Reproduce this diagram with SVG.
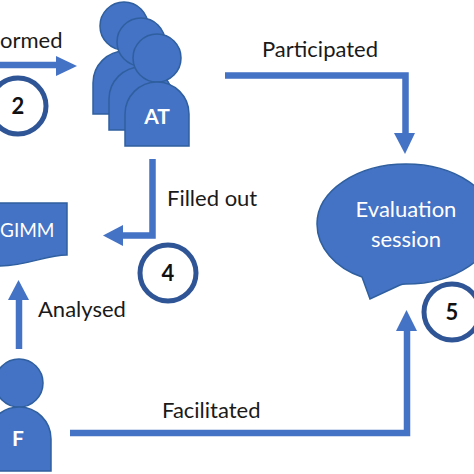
<svg xmlns="http://www.w3.org/2000/svg" width="474" height="474" viewBox="0 0 474 474">
<style>
.s{fill:#4472c4;stroke:#2f5f9f;stroke-width:1.5}
.c{fill:none;stroke:#4472c4;stroke-width:6.5}
.h{fill:#4472c4}
text{font-family:Lato,"Open Sans",sans-serif}
.t{font-size:22px;fill:#1a1a1a}
.w{fill:#fff;text-anchor:middle}
.n{fill:#fff;stroke:#2f5597;stroke-width:5}
.d{font-size:22px;font-weight:700;fill:#111;text-anchor:middle}
</style>
<rect width="474" height="474" fill="#fff"/>
<g id="connectors">
<path class="c" d="M0 65H60"/><path class="h" d="M56 56L77 66L56 76Z"/>
<path class="c" d="M225 75.500H405.500V136"/><path class="h" d="M394 133H415L405 154Z"/>
<path class="c" d="M152.500 159V235.500H120"/><path class="h" d="M123 225V246L103 235.500Z"/>
<path class="c" d="M19 349V297"/><path class="h" d="M8 300H29L18.500 280Z"/>
<path class="c" d="M70 433H407V327"/><path class="h" d="M396 331H417L406.500 310Z"/>
</g>
<g id="node-at">
<circle class="s" cx="124" cy="26" r="24"/><path class="s" d="M93 114V83A32 32 0 0 1 157 83V114Z"/>
<circle class="s" cx="141" cy="42" r="24"/><path class="s" d="M109 130V99A32 32 0 0 1 173 99V130Z"/>
<circle class="s" cx="157" cy="58" r="24"/><path class="s" d="M125 146V114A32 32 0 0 1 189 114V146Z"/>
<text class="w" x="157" y="124" font-size="21" font-weight="700">AT</text>
</g>
<g id="node-f">
<circle class="s" cx="19" cy="383" r="24"/><path class="s" d="M-13 471V439A32 32 0 0 1 51 439V471Z"/>
<text class="w" x="18" y="446" font-size="21" font-weight="700">F</text>
</g>
<g id="node-gimm">
<path class="s" d="M-2 203H67V255C45 255 28 266 -2 266Z"/>
<text fill="#fff" x="0" y="237" font-size="19">GIMM</text>
</g>
<g id="node-session">
<path class="s" d="M362 277C335 268 317 247 317 224C317 191 357 164 406 164C455 164 495 191 495 224C495 257 455 284 406 284Q402 284 400 285L370 299Z"/>
<text class="w" x="406" y="217" font-size="22">Evaluation</text>
<text class="w" x="406" y="247" font-size="22">session</text>
</g>
<g id="badge-2"><circle class="n" cx="18" cy="106" r="28"/><text class="d" x="18" y="114">2</text></g>
<g id="badge-4"><circle class="n" cx="168" cy="273" r="28"/><text class="d" x="168" y="281">4</text></g>
<g id="badge-5"><circle class="n" cx="452" cy="312" r="28"/><text class="d" x="452" y="320">5</text></g>
<g id="labels">
<text class="t" x="0" y="48">ormed</text>
<text class="t" x="262" y="57">Participated</text>
<text class="t" x="167" y="206">Filled out</text>
<text class="t" x="38" y="317">Analysed</text>
<text class="t" x="162" y="418">Facilitated</text>
</g>
</svg>
